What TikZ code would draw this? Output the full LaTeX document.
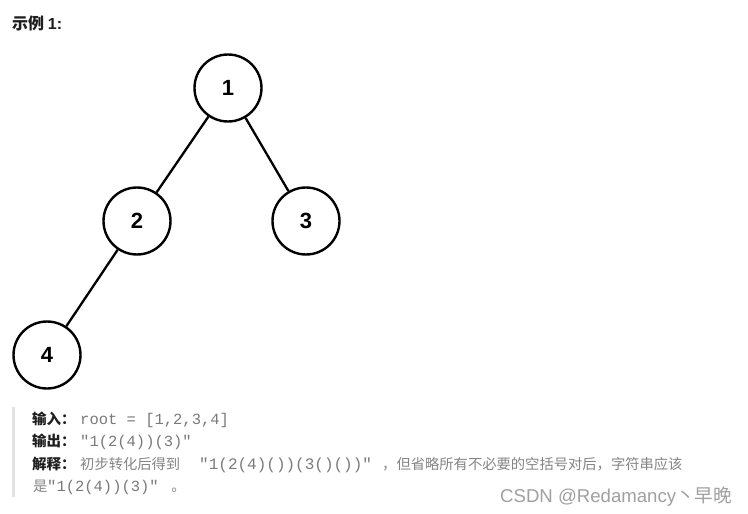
\documentclass[tikz,border=0pt]{standalone}
\usepackage{fontspec}
\setmainfont{Liberation Sans}
\newfontfamily\cjk{Noto Sans CJK SC}
\newfontfamily\codefont{Liberation Mono}
\definecolor{codegray}{HTML}{7A7A7A}
\definecolor{txtgray}{HTML}{858585}
\definecolor{labelc}{HTML}{1F1F1F}
\definecolor{barc}{HTML}{E3E3E3}
\definecolor{wm}{HTML}{A0A0A0}
\begin{document}
\begin{tikzpicture}[x=1pt,y=-1pt,
  treenode/.style={circle,draw=black,line width=2.4pt,minimum size=67pt,inner sep=0pt,
    font=\fontsize{22}{22}\selectfont\bfseries},
  edge/.style={line width=2.3pt},
  lbl/.style={anchor=base west,inner sep=0pt,text=labelc,font=\cjk\fontsize{14.5}{14.5}\selectfont\bfseries},
  code/.style={anchor=base west,inner sep=0pt,text=codegray,font=\codefont\fontsize{15.5}{15.5}\selectfont},
  expl/.style={anchor=base west,inner sep=0pt,text=txtgray,font=\cjk\fontsize{14.3}{14.3}\selectfont}]
\useasboundingbox (0,0) rectangle (748,514);
\fill[white] (0,0) rectangle (748,514);
\node[anchor=base west,inner sep=0pt,text=labelc,font=\cjk\fontsize{16}{16}\selectfont\bfseries] (title) at (12,30) {示例 \fontspec{Liberation Sans}\bfseries 1:};
\node[treenode] (n1) at (228,88) {1};
\node[treenode] (n2) at (137,221) {2};
\node[treenode] (n3) at (306,221) {3};
\node[treenode] (n4) at (47,355) {4};
\draw[edge] (n1) -- (n2);
\draw[edge] (n1) -- (n3);
\draw[edge] (n2) -- (n4);
\fill[barc] (12,407) rectangle (15,497);
\node[lbl] (l1) at (32,424) {输入：};
\node[code] (c1) at (80,424) {root = [1,2,3,4]};
\node[lbl] (l2) at (32,446) {输出：};
\node[code] (c2) at (80,446) {"1(2(4))(3)"};
\node[lbl] (l3) at (32,469) {解释：};
\node[expl] (e3) at (80,469) {初步转化后得到};
\node[code,font=\codefont\fontsize{16}{16}\selectfont] (c3) at (199,469) {"1(2(4)())(3()())"};
\node[expl] (e3b) at (382,469) {，但省略所有不必要的空括号对后，字符串应该};
\node[expl] (e4) at (33,491) {是};
\node[code] (c4) at (47,491) {"1(2(4))(3)"};
\node[expl] (e4b) at (168,491) {\ 。};
\node[anchor=base west,inner sep=0pt,text=wm,font=\fontsize{18.6}{18.6}\selectfont] (wmk) at (500,502) {CSDN @Redamancy{\cjk 丶早晚}};
\end{tikzpicture}
\end{document}
